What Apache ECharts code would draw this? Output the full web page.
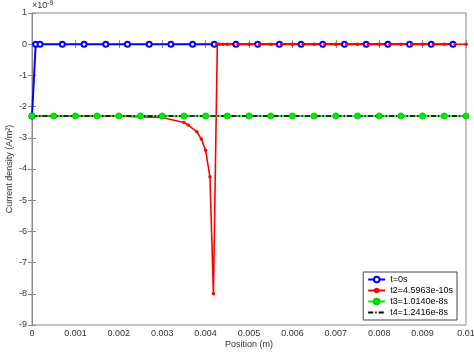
<!DOCTYPE html>
<html>
<head>
<meta charset="utf-8">
<script src="https://cdn.jsdelivr.net/npm/echarts@6/dist/echarts.min.js"></script>
<style>
    html, body { margin: 0; padding: 0; background: #fff; }
    #char1 { width: 474px; height: 354px; }
</style>
</head>
<body>
<div id="char1"></div>
<script>
// y values are in units of 1e-9 A/m^2
var blueX = [0, 0.000085, 0.000185, 0.0007, 0.0012, 0.0017, 0.0022, 0.0027, 0.0032, 0.0037, 0.0042, 0.0047, 0.0052, 0.0057, 0.0062, 0.0067, 0.0072, 0.0077, 0.0082, 0.0087, 0.0092, 0.0097];
var blueY = [-2.3, 0, 0, 0, 0, 0, 0, 0, 0, 0, 0, 0, 0, 0, 0, 0, 0, 0, 0, 0, 0, 0];

var redX = [0, 0.0005, 0.001, 0.0015, 0.002, 0.0025, 0.003, 0.0035, 0.0036, 0.0038, 0.0039, 0.004, 0.0041, 0.00418, 0.00427, 0.00432, 0.0044, 0.0045, 0.00475, 0.005, 0.00525, 0.0055, 0.00575, 0.006, 0.00625, 0.0065, 0.00675, 0.007, 0.00725, 0.0075, 0.00775, 0.008, 0.00825, 0.0085, 0.00875, 0.009, 0.00925, 0.0095, 0.00975, 0.01];
var redY = [-2.3, -2.3, -2.3, -2.3, -2.3, -2.33, -2.35, -2.51, -2.59, -2.81, -3.04, -3.4, -4.25, -8.0, 0, 0, 0, 0, 0, 0, 0, 0, 0, 0, 0, 0, 0, 0, 0, 0, 0, 0, 0, 0, 0, 0, 0, 0, 0, 0];

var greenX = [0, 0.0005, 0.001, 0.0015, 0.002, 0.0025, 0.003, 0.0035, 0.004, 0.0045, 0.005, 0.0055, 0.006, 0.0065, 0.007, 0.0075, 0.008, 0.0085, 0.009, 0.0095, 0.01];
var greenY = [-2.3, -2.3, -2.3, -2.3, -2.3, -2.3, -2.3, -2.3, -2.3, -2.3, -2.3, -2.3, -2.3, -2.3, -2.3, -2.3, -2.3, -2.3, -2.3, -2.3, -2.3];

var blackX = [0, 0.01];
var blackY = [-2.3, -2.3];

var seriesNames = ["t=0s", "t2=4.5963e-10s", "t3=1.0140e-8s", "t4=1.2416e-8s"];

char1();

function pairs(xs, ys) {
    var out = [];
    for (var i = 0; i < xs.length; i++) {
        out.push([xs[i], ys[i]]);
    }
    return out;
}

function char1() {
    var myChart = echarts.init(document.getElementById("char1"));
    var font = "Liberation Sans, Arial, sans-serif";
    var axisGray = "#8a8a8a";
    var textColor = "#333";

    var tickAxis = {
        axisLine: { show: true, lineStyle: { color: axisGray, width: 1 } },
        axisTick: { show: true, inside: true, length: 4, lineStyle: { color: axisGray } },
        splitLine: { show: false },
    };

    var option = {
        animation: false,
        backgroundColor: "#fff",
        grid: {
            left: 32,
            right: 8,
            top: 13,
            bottom: 29,
            containLabel: false,
            outerBoundsMode: "none",
            show: true,
            borderColor: axisGray,
            borderWidth: 1,
        },
        graphic: [
            {
                type: "text",
                left: 32,
                top: 0,
                style: {
                    text: "×10{s|-9}",
                    font: "9px " + font,
                    fill: textColor,
                    rich: {
                        s: { fontSize: 7, verticalAlign: "top", padding: [0, 0, 5, 0] },
                    },
                },
            },
        ],
        legend: {
            orient: "vertical",
            right: 17,
            top: 272,
            backgroundColor: "#fff",
            borderColor: "#444",
            borderWidth: 1,
            borderRadius: 0,
            padding: [3, 4],
            itemGap: 2,
            itemWidth: 17,
            itemHeight: 7,
            itemTextGap: 2,
            textStyle: { fontSize: 9, fontFamily: font, color: "#000" },
            data: [
                seriesNames[0],
                seriesNames[1],
                seriesNames[2],
                { name: seriesNames[3], itemStyle: { opacity: 0 } },
            ],
        },
        xAxis: [
            Object.assign({}, tickAxis, {
                type: "value",
                min: 0,
                max: 0.01,
                interval: 0.001,
                name: "Position (m)",
                nameLocation: "middle",
                nameGap: 15,
                nameMoveOverlap: false,
                nameTextStyle: { fontSize: 9, fontFamily: font, color: textColor },
                axisLabel: {
                    fontSize: 9,
                    fontFamily: font,
                    color: textColor,
                    margin: 4,
                    formatter: function (v) {
                        return String(+v.toFixed(3));
                    },
                },
            }),
            Object.assign({}, tickAxis, {
                type: "value",
                position: "top",
                min: 0,
                max: 0.01,
                interval: 0.001,
                axisLabel: { show: false },
            }),
        ],
        yAxis: [
            Object.assign({}, tickAxis, {
                type: "value",
                min: -9,
                max: 1,
                interval: 1,
                name: "Current density (A/m²)",
                nameLocation: "middle",
                nameGap: 18,
                nameMoveOverlap: false,
                nameTextStyle: { fontSize: 9, fontFamily: font, color: textColor },
                axisLabel: { fontSize: 9, fontFamily: font, color: textColor, margin: 5 },
            }),
            Object.assign({}, tickAxis, {
                type: "value",
                position: "right",
                min: -9,
                max: 1,
                interval: 1,
                axisLabel: { show: false },
            }),
        ],
        series: [
            {
                name: seriesNames[0],
                type: "line",
                data: pairs(blueX, blueY),
                symbol: "emptyCircle",
                symbolSize: 5,
                color: "#0000ff",
                lineStyle: { width: 2, color: "#0000ff" },
                itemStyle: { borderColor: "#0000ff", borderWidth: 1.3 },
            },
            {
                name: seriesNames[1],
                type: "line",
                data: pairs(redX, redY),
                symbol: "circle",
                symbolSize: 3.5,
                color: "#ff0000",
                lineStyle: { width: 1.6, color: "#ff0000" },
            },
            {
                name: seriesNames[2],
                type: "line",
                data: pairs(greenX, greenY),
                symbol: "circle",
                symbolSize: 6,
                color: "#00ee00",
                lineStyle: { width: 1.6, color: "#00ee00" },
                itemStyle: { borderColor: "#00cc00", borderWidth: 1 },
            },
            {
                name: seriesNames[3],
                type: "line",
                data: pairs(blackX, blackY),
                symbol: "none",
                color: "#000",
                lineStyle: { width: 1.5, color: "#000", type: [5, 2, 1.5, 2] },
            },
        ],
    };

    myChart.setOption(option);
    window.addEventListener("resize", function () {
        myChart.resize();
    });
}
</script>
</body>
</html>
